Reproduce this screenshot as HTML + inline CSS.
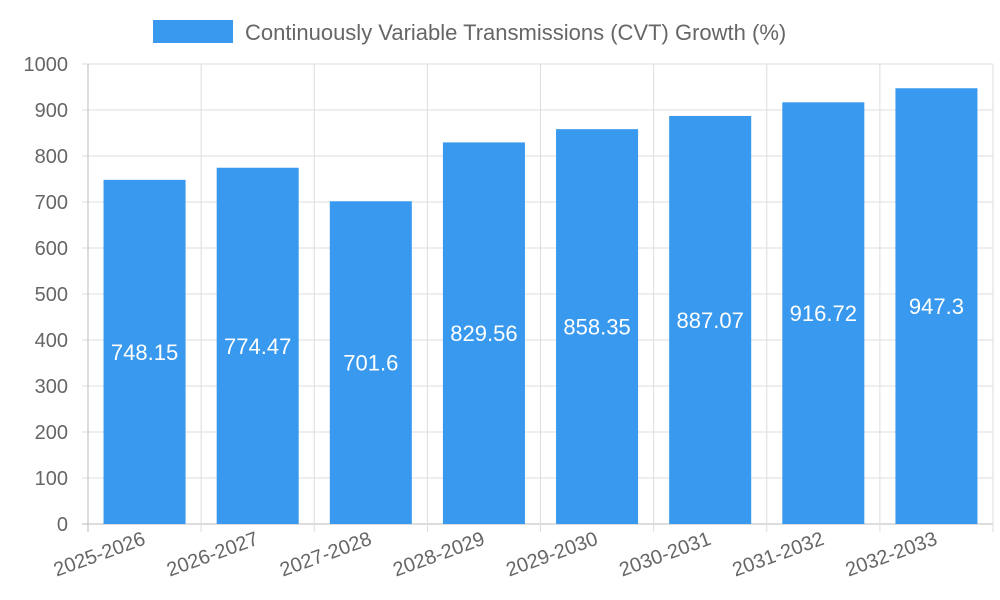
<!DOCTYPE html>
<html><head><meta charset="utf-8"><style>
body{margin:0;background:#fff;}
svg{display:block;font-family:"Liberation Sans",sans-serif;}
</style></head><body>
<svg id="chart" width="1000" height="600">
<g id="grid"></g>
<g id="bars"></g>
<g id="ylabels"></g>
<g id="xlabels"></g>
<g>
<rect x="153" y="20" width="80" height="23" fill="#3899ee"></rect>
<text x="245" y="40" font-size="22" fill="#666">Continuously Variable Transmissions (CVT) Growth (%)</text>
</g>
</svg>
<script>
const categories=["2025-2026","2026-2027","2027-2028","2028-2029","2029-2030","2030-2031","2031-2032","2032-2033"];
const values=[748.15,774.47,701.6,829.56,858.35,887.07,916.72,947.3];
const yTicks=[0,100,200,300,400,500,600,700,800,900,1000];
const NS="http://www.w3.org/2000/svg";
const L=88,R=993,T=64,B=524,yMax=1000;
const step=(R-L)/categories.length;
const y=v=>B-(v/yMax)*(B-T);
const xc=i=>L+step*(i+0.5);
function mk(tag,attrs,parent){const e=document.createElementNS(NS,tag);for(const k in attrs)e.setAttribute(k,attrs[k]);parent.appendChild(e);return e;}
const grid=document.getElementById('grid'),bars=document.getElementById('bars'),yl=document.getElementById('ylabels'),xl=document.getElementById('xlabels');
yTicks.forEach(t=>{
 const ln=mk('line',{x1:L-6,x2:R,y1:y(t),y2:y(t),stroke:t===0?'#bbb':'#ddd','stroke-width':1},grid);
 
 
 const tx=mk('text',{x:L-20,y:y(t)+7,'text-anchor':'end','font-size':20,fill:'#666'},yl);
 tx.textContent=t;
 
 
});
for(let i=0;i<=categories.length;i++){
 const x=L+step*i;
 const ln=mk('line',{x1:x,x2:x,y1:T,y2:B+8,stroke:i===0?'#bbb':'#ddd','stroke-width':1},grid);
 
 
}
const bw=step*0.725;
categories.forEach((c,i)=>{
 const v=values[i];
 const r=mk('rect',{x:xc(i)-bw/2,y:y(v),width:bw,height:B-y(v),fill:'#3899ee'},bars);
 
 
 const vt=mk('text',{x:xc(i),y:(y(v)+B)/2+8,'text-anchor':'middle','font-size':22,fill:'#fff'},bars);
 vt.textContent=v;
 
 
 const lt=mk('text',{x:xc(i)+2,y:B+20,'text-anchor':'end','font-size':20,fill:'#666',transform:`rotate(-20 ${xc(i)+2} ${B+20})`},xl);
 lt.textContent=c;
 
 
});
</script>
</body></html>
